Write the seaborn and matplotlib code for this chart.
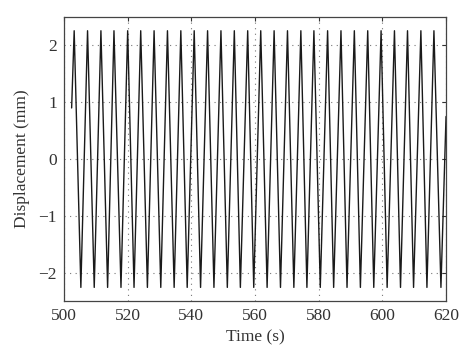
import numpy as np
import pandas as pd
import matplotlib
matplotlib.use('Agg')
import matplotlib.pyplot as plt
import seaborn as sns

# ---------- dados ----------
# instantes dos picos e vales (s), deslocamento (mm)
peak_times = [503.2, 507.4, 511.6, 515.7, 520.0, 524.1, 528.3, 532.5, 536.7,
              540.9, 545.1, 549.3, 553.5, 557.7, 561.8, 566.0, 570.2, 574.4,
              578.5, 582.8, 587.0, 591.2, 595.4, 599.6, 603.8, 607.9, 612.1,
              616.2]
peak_vals = [2.26, 2.26, 2.26, 2.26, 2.26, 2.26, 2.26, 2.26, 2.26,
             2.26, 2.26, 2.26, 2.26, 2.26, 2.26, 2.26, 2.26, 2.26,
             2.26, 2.26, 2.26, 2.26, 2.26, 2.26, 2.26, 2.26, 2.26,
             2.26]
trough_times = [505.3, 509.5, 513.7, 517.9, 522.0, 526.2, 530.4, 534.6, 538.7,
                542.9, 547.1, 551.3, 555.4, 559.6, 563.8, 568.0, 572.2, 576.3,
                580.5, 584.7, 588.9, 593.1, 597.3, 601.5, 605.7, 609.8, 614.0,
                618.4]
trough_vals = [-2.26, -2.26, -2.26, -2.26, -2.26, -2.26, -2.26, -2.26, -2.26,
               -2.26, -2.26, -2.26, -2.26, -2.26, -2.26, -2.26, -2.26, -2.26,
               -2.26, -2.26, -2.26, -2.26, -2.26, -2.26, -2.26, -2.26, -2.26,
               -2.26]
# extremos do registro (início e fim visíveis)
edge_times = [502.4, 620.0]
edge_vals = [0.9, 0.75]

x_ticks = [500, 520, 540, 560, 580, 600, 620]
y_ticks = [-2, -1, 0, 1, 2]
y_tick_labels = ['\u22122', '\u22121', '0', '1', '2']

df = pd.DataFrame({
    'Time': peak_times + trough_times + edge_times,
    'Disp': peak_vals + trough_vals + edge_vals,
}).sort_values('Time')

# ---------- figura ----------
sns.set_style('white')
plt.rcParams['font.family'] = ['Liberation Serif', 'DejaVu Serif']

fig = plt.figure(figsize=(4.74, 3.64), dpi=100)
ax = fig.add_axes([0.135, 0.173, 0.806, 0.78])

sns.lineplot(data=df, x='Time', y='Disp', estimator=None, sort=True,
             color='#1a1a1a', linewidth=1.0, ax=ax)

ax.set_xlim(500, 620)
ax.set_ylim(-2.5, 2.5)
ax.set_xticks(x_ticks)
ax.set_yticks(y_ticks)
ax.set_yticklabels(y_tick_labels)
ax.grid(True, linestyle=(0, (1, 4)), color='#777777', linewidth=0.8)
ax.tick_params(direction='in', length=3, top=True, right=True,
               labelsize=12.5, colors='#333333', width=0.8, pad=5)
for sp in ax.spines.values():
    sp.set_visible(True)
    sp.set_color('#444444')
    sp.set_linewidth(0.9)
ax.set_xlabel('Time (s)', fontsize=12.5, color='#333333', labelpad=4)
ax.set_ylabel('Displacement (mm)', fontsize=12.5, color='#333333', labelpad=6)

plt.savefig('out.png', dpi=100)
plt.close()
